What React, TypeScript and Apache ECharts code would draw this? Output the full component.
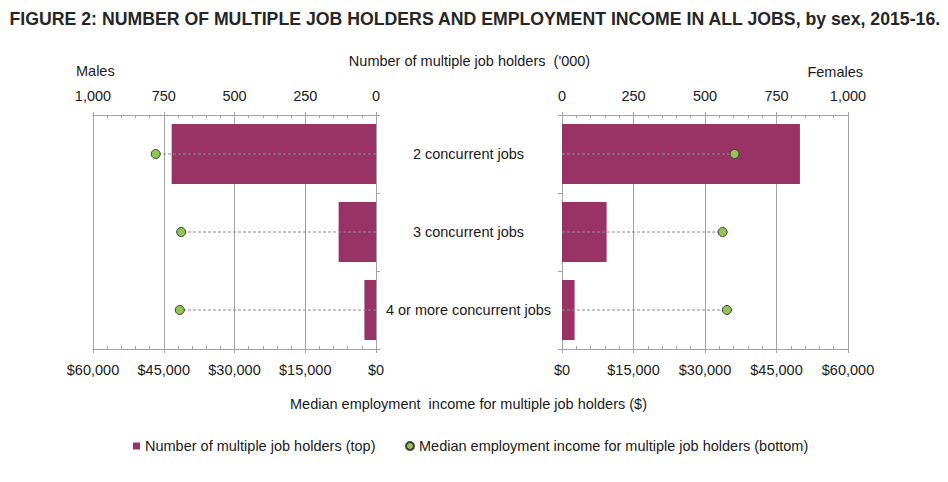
import React, { useEffect, useRef } from "react";
import * as echarts from "echarts";

const categories = ["2 concurrent jobs", "3 concurrent jobs", "4 or more concurrent jobs"];
const maleHolders = [722, 132, 41];
const femaleHolders = [832, 156, 44];
const maleIncome = [46700, 41300, 41600];
const femaleIncome = [36200, 33700, 34600];
const holdersAxis = { min: 0, max: 1000, interval: 250 };
const incomeAxis = { min: 0, max: 60000, interval: 15000 };

const barName = "Number of multiple job holders (top)";
const dotName = "Median employment income for multiple job holders (bottom)";
const titleText = "FIGURE 2: NUMBER OF MULTIPLE JOB HOLDERS AND EMPLOYMENT INCOME IN ALL JOBS, by sex, 2015-16.";
const topAxisTitle = "Number of multiple job holders  ('000)";
const bottomAxisTitle = "Median employment  income for multiple job holders ($)";

const FONT = "'Liberation Sans', Arial, sans-serif";
const FS = 14.5;
const TXT = "#1a1a1a";
const GRID_LINE = "#a3a3a3";
const BAR = "#993366";
const DOT = "#92c353";

const fmtNum = (v: number) => v.toLocaleString("en-US");
const fmtMoney = (v: number) => "$" + v.toLocaleString("en-US");

function buildXAxes(gridIndex: number, inverse: boolean, topMargin: number, bottomMargin: number) {
  const common = { gridIndex, inverse, type: "value" as const };
  return [
    {
      ...common,
      ...holdersAxis,
      position: "top",
      axisLine: { show: true, lineStyle: { color: GRID_LINE } },
      axisTick: { show: true, length: 3, lineStyle: { color: GRID_LINE } },
      axisLabel: { margin: topMargin, fontSize: FS, color: TXT, fontFamily: FONT, formatter: fmtNum },
      splitLine: { show: true, lineStyle: { color: GRID_LINE, width: 1 } },
    },
    {
      ...common,
      ...holdersAxis,
      position: "top",
      axisLine: { show: false },
      axisTick: { show: false, inside: true },
      axisLabel: { show: false },
      splitLine: { show: false },
      minorTick: { show: true, splitNumber: 5, length: 3, lineStyle: { color: GRID_LINE } },
    },
    {
      ...common,
      ...incomeAxis,
      position: "bottom",
      axisLine: { show: true, lineStyle: { color: GRID_LINE } },
      axisTick: { show: true, length: 4, lineStyle: { color: GRID_LINE } },
      axisLabel: { margin: bottomMargin, fontSize: FS, color: TXT, fontFamily: FONT, formatter: fmtMoney },
      splitLine: { show: false },
    },
    {
      ...common,
      ...incomeAxis,
      position: "bottom",
      axisLine: { show: false },
      axisTick: { show: false, inside: true },
      axisLabel: { show: false },
      splitLine: { show: false },
      minorTick: { show: true, splitNumber: 5, length: 3, lineStyle: { color: GRID_LINE } },
    },
  ];
}

function lineSeries(xAxisIndex: number, yAxisIndex: number, values: number[]) {
  return {
    type: "custom",
    xAxisIndex,
    yAxisIndex,
    silent: true,
    z: 3,
    encode: { x: 0, y: 1 },
    data: values.map((v, i) => [v, i]),
    renderItem: (_params: any, api: any) => {
      const v = api.value(0);
      const c = api.value(1);
      const p0 = api.coord([0, c]);
      const p1 = api.coord([v, c]);
      return {
        type: "line",
        shape: { x1: p0[0], y1: p0[1], x2: p1[0], y2: p1[1] },
        style: { stroke: "#8a8a8a", lineWidth: 1, lineDash: [3, 2] },
      };
    },
  };
}

export default function App() {
  const ref = useRef<HTMLDivElement>(null);

  useEffect(() => {
    if (!ref.current) return;
    const chart = echarts.init(ref.current, undefined, { renderer: "svg" });
    const gridTop = 115;
    const gridBottom = 133;

    const option: any = {
      animation: false,
      backgroundColor: "#ffffff",
      textStyle: { fontFamily: FONT },
      grid: [
        { left: 93, right: 572, top: gridTop, bottom: gridBottom, containLabel: false },
        { left: 562, right: 100, top: gridTop, bottom: gridBottom, containLabel: false },
      ],
      xAxis: [...buildXAxes(0, true, 12, 13.5), ...buildXAxes(1, false, 12, 13.5)],
      yAxis: [
        {
          gridIndex: 0,
          type: "category",
          data: categories,
          inverse: true,
          position: "right",
          axisLine: { show: true, lineStyle: { color: GRID_LINE } },
          axisTick: { show: true, length: 4, lineStyle: { color: GRID_LINE } },
          axisLabel: { show: false },
          splitLine: { show: false },
        },
        {
          gridIndex: 1,
          type: "category",
          data: categories,
          inverse: true,
          position: "left",
          axisLine: { show: true, lineStyle: { color: GRID_LINE } },
          axisTick: { show: true, length: 4, lineStyle: { color: GRID_LINE } },
          axisLabel: {
            show: true,
            align: "center",
            margin: 93.5,
            fontSize: FS,
            color: TXT,
            fontFamily: FONT,
          },
          splitLine: { show: false },
        },
      ],
      legend: [
        {
          data: [{ name: barName, icon: "rect" }],
          left: 133,
          top: 438.5,
          itemWidth: 7,
          itemHeight: 7,
          padding: 0,
          selectedMode: false,
          textStyle: { fontSize: FS, color: TXT, fontFamily: FONT },
        },
        {
          data: [{ name: dotName, icon: "circle" }],
          left: 405,
          top: 438.5,
          itemWidth: 8,
          itemHeight: 8,
          padding: 0,
          selectedMode: false,
          textStyle: { fontSize: FS, color: TXT, fontFamily: FONT },
        },
      ],
      graphic: [
        {
          type: "text",
          left: 9.5,
          top: 10,
          style: { text: titleText, fontSize: 17.7, fontWeight: "bold", fill: "#262626", fontFamily: FONT },
        },
        {
          type: "text",
          x: 469.5,
          y: 60.5,
          style: { text: topAxisTitle, fontSize: FS, fill: TXT, fontFamily: FONT, align: "center", verticalAlign: "middle" },
        },
        {
          type: "text",
          x: 76,
          y: 70.5,
          style: { text: "Males", fontSize: FS, fill: TXT, fontFamily: FONT, align: "left", verticalAlign: "middle" },
        },
        {
          type: "text",
          x: 863,
          y: 72,
          style: { text: "Females", fontSize: FS, fill: TXT, fontFamily: FONT, align: "right", verticalAlign: "middle" },
        },
        {
          type: "text",
          x: 468.5,
          y: 404,
          style: { text: bottomAxisTitle, fontSize: FS, fill: TXT, fontFamily: FONT, align: "center", verticalAlign: "middle" },
        },
      ],
      series: [
        {
          name: barName,
          type: "bar",
          xAxisIndex: 0,
          yAxisIndex: 0,
          data: maleHolders,
          barWidth: "77%",
          itemStyle: { color: BAR },
          z: 2,
        },
        {
          name: barName,
          type: "bar",
          xAxisIndex: 4,
          yAxisIndex: 1,
          data: femaleHolders,
          barWidth: "77%",
          itemStyle: { color: BAR },
          z: 2,
        },
        lineSeries(2, 0, maleIncome),
        lineSeries(6, 1, femaleIncome),
        {
          name: dotName,
          type: "scatter",
          xAxisIndex: 2,
          yAxisIndex: 0,
          symbol: "circle",
          symbolSize: 9,
          data: maleIncome.map((v, i) => [v, categories[i]]),
          itemStyle: { color: DOT, borderColor: "#3d3d3d", borderWidth: 1, opacity: 1 },
          z: 5,
        },
        {
          name: dotName,
          type: "scatter",
          xAxisIndex: 6,
          yAxisIndex: 1,
          symbol: "circle",
          symbolSize: 9,
          data: femaleIncome.map((v, i) => [v, categories[i]]),
          itemStyle: { color: DOT, borderColor: "#3d3d3d", borderWidth: 1, opacity: 1 },
          z: 5,
        },
      ],
    };

    chart.setOption(option);
    return () => {
      chart.dispose();
    };
  }, []);

  return (
    <div
      ref={ref}
      style={{ position: "absolute", left: 0, top: 0, width: 948, height: 482, background: "#fff" }}
    />
  );
}
